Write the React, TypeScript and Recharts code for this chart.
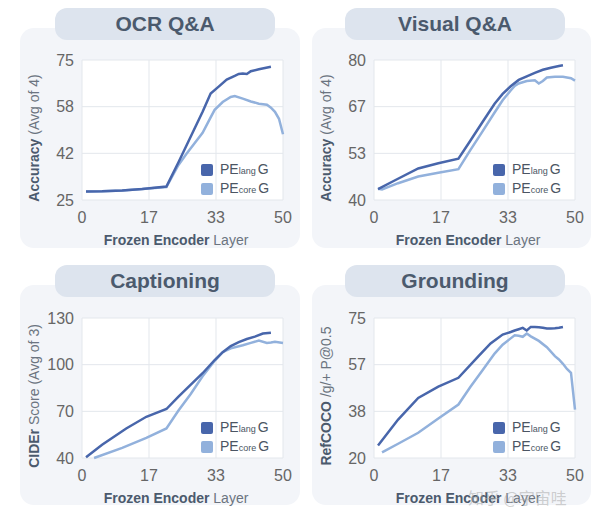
import React from 'react';
import { LineChart, Line, XAxis, YAxis, CartesianGrid, Legend } from 'recharts';

// layer positions shared by all four panels
const X_TICKS = [0, 16.67, 33.33, 50];

const OCR_Y_TICKS = [25, 41.67, 58.33, 75];
const OCR_LANG_LAYERS = [1, 5, 10, 15, 21, 24, 27, 30, 32, 34, 36, 38, 39, 40, 41, 42, 44, 47];
const OCR_LANG_ACC = [28.0, 28.1, 28.4, 28.9, 29.8, 38.5, 47.5, 56.5, 63.0, 65.5, 68.0, 69.3, 70.0, 70.2, 70.0, 71.0, 71.7, 72.6];
const OCR_CORE_LAYERS = [1, 5, 10, 15, 21, 24, 26, 28, 30, 32, 33, 35, 37, 38, 40, 42, 44, 46, 47, 48, 49, 50];
const OCR_CORE_ACC = [28.0, 28.1, 28.4, 28.9, 29.6, 37.5, 41.5, 45.3, 49.0, 54.5, 57.2, 60.0, 61.8, 62.1, 61.2, 60.2, 59.4, 59.0, 58.0, 56.5, 54.0, 48.5];

const VQA_Y_TICKS = [40, 53.33, 66.67, 80];
const VQA_LANG_LAYERS = [1, 5, 11, 16, 21, 24, 27, 30, 32, 34, 36, 38, 40, 42, 44, 46, 47];
const VQA_LANG_ACC = [43.1, 45.5, 49.0, 50.5, 51.8, 57.0, 62.3, 67.5, 70.3, 72.5, 74.3, 75.3, 76.3, 77.2, 77.8, 78.3, 78.5];
const VQA_CORE_LAYERS = [1, 2, 6, 11, 16, 21, 24, 27, 30, 32, 34, 35, 36, 38, 40, 41, 42, 43, 45, 47, 48, 49, 50];
const VQA_CORE_ACC = [43.2, 43.0, 44.8, 46.7, 47.8, 48.8, 54.3, 59.6, 65.0, 68.5, 71.3, 72.6, 73.3, 74.0, 74.2, 73.3, 74.0, 75.0, 75.2, 75.2, 75.0, 74.8, 74.1];

const CAP_Y_TICKS = [40, 70, 100, 130];
const CAP_LANG_LAYERS = [1, 5, 11, 16, 21, 24, 27, 30, 33, 35, 37, 39, 41, 43, 45, 47];
const CAP_LANG_SCORE = [40.5, 48.5, 59.0, 66.5, 71.5, 79.5, 87.0, 94.5, 103.0, 108.0, 112.0, 114.5, 116.5, 118.0, 120.0, 120.5];
const CAP_CORE_LAYERS = [3, 10, 16, 21, 24, 27, 30, 33, 35, 37, 40, 42, 44, 46, 47, 48, 50];
const CAP_CORE_SCORE = [40.0, 46.5, 53.0, 59.0, 70.5, 81.0, 92.5, 102.5, 108.0, 110.5, 112.5, 114.0, 115.5, 114.0, 114.2, 114.7, 114.0];

const GRD_Y_TICKS = [20, 38.33, 56.67, 75];
const GRD_LANG_LAYERS = [1, 6, 11, 16, 21, 26, 29, 32, 34, 35, 36, 37, 38, 39, 40, 41, 42, 43, 44, 45, 46, 47];
const GRD_LANG_ACC = [24.9, 35.1, 43.6, 48.0, 51.5, 60.0, 65.0, 68.5, 69.5, 70.1, 70.6, 71.1, 70.1, 71.5, 71.5, 71.4, 71.2, 70.9, 70.9, 71.0, 71.2, 71.5];
const GRD_CORE_LAYERS = [2, 6, 11, 16, 21, 24, 27, 30, 32, 34, 35, 36, 37, 38, 39, 41, 43, 45, 46, 47, 48, 49, 50];
const GRD_CORE_ACC = [22.2, 25.6, 29.9, 35.5, 41.0, 48.0, 54.5, 61.0, 64.5, 67.0, 68.2, 68.0, 67.6, 68.9, 67.8, 66.0, 63.5, 60.0, 58.7, 57.0, 55.0, 53.5, 39.0];

const SERIES_NAMES = ['PE lang G', 'PE core G'];
const SERIES_SUBS = ['lang', 'core'];

const LANG_COLOR = '#4866ab';
const CORE_COLOR = '#92b1dc';
const FONT = '"Liberation Sans", Arial, sans-serif';

const toPoints = (layers: number[], values: number[]) =>
  layers.map((layer, i) => ({ layer, value: values[i] }));

interface PanelProps {
  title: string;
  yBold: string;
  yRest: string;
  yTicks: number[];
  lang: { layer: number; value: number }[];
  core: { layer: number; value: number }[];
  left: number;
  top: number;
  cardTop: number;
  pillTop: number;
}

const LegendBox = () => (
  <div style={{ fontFamily: FONT, color: '#4b5563' }}>
    {SERIES_SUBS.map((sub, i) => (
      <div key={sub} style={{ display: 'flex', alignItems: 'center', height: 19 }}>
        <span
          style={{
            width: 12,
            height: 12,
            borderRadius: 2,
            marginRight: 7,
            background: i === 0 ? LANG_COLOR : CORE_COLOR,
          }}
        />
        <span style={{ fontSize: 14, lineHeight: '14px' }}>
          PE<span style={{ fontSize: 9 }}>{sub}</span>
          <span style={{ marginLeft: 2 }}>G</span>
        </span>
      </div>
    ))}
  </div>
);

const Panel: React.FC<PanelProps> = ({ title, yBold, yRest, yTicks, lang, core, left, top, cardTop, pillTop }) => {
  const cardLeft = left < 100 ? 20 : 312;
  const cardWidth = left < 100 ? 280 : 279;
  const pillLeft = left < 100 ? 55 : 345;
  return (
    <>
      <div
        style={{
          position: 'absolute',
          left: cardLeft,
          top: cardTop,
          width: cardWidth,
          height: 220,
          borderRadius: 14,
          background: '#f3f5f9',
        }}
      />
      <div
        style={{
          position: 'absolute',
          left: pillLeft,
          top: pillTop,
          width: 220,
          height: 32,
          borderRadius: 12,
          background: '#dde4ee',
          color: '#4b5a6d',
          fontFamily: FONT,
          fontWeight: 'bold',
          fontSize: 21,
          lineHeight: '32px',
          textAlign: 'center',
        }}
      >
        {title}
      </div>
      <div style={{ position: 'absolute', left, top }}>
        <LineChart width={300} height={260} margin={{ top: 60, right: 17, bottom: 30, left: 42 }}>
          <CartesianGrid stroke="#e3e7ec" fill="#ffffff" />
          <XAxis
            type="number"
            dataKey="layer"
            domain={[0, 50]}
            ticks={X_TICKS}
            tickFormatter={(v) => String(Math.round(v))}
            axisLine={false}
            tickLine={false}
            tickMargin={6}
            interval={0}
            tick={{ fontSize: 16, fill: '#666666', fontFamily: FONT }}
            label={{
              content: () => (
                <text x={176} y={245} textAnchor="middle" fontSize={14} fontFamily={FONT}>
                  <tspan fontWeight="bold" fill="#4b5a6d">Frozen Encoder</tspan>
                  <tspan fill="#6b7480"> Layer</tspan>
                </text>
              ),
            }}
          />
          <YAxis
            type="number"
            width={40}
            domain={[yTicks[0], yTicks[yTicks.length - 1]]}
            ticks={yTicks}
            tickFormatter={(v) => String(Math.round(v))}
            axisLine={false}
            tickLine={false}
            interval={0}
            tick={{ fontSize: 16, fill: '#666666', fontFamily: FONT }}
            label={{
              content: () => (
                <text
                  x={34}
                  y={138}
                  transform="rotate(-90, 34, 138)"
                  textAnchor="middle"
                  dominantBaseline="central"
                  fontSize={14}
                  fontFamily={FONT}
                >
                  <tspan fontWeight="bold" fill="#4b5a6d">{yBold}</tspan>
                  <tspan fill="#6b7480">{yRest}</tspan>
                </text>
              ),
            }}
          />
          <Legend
            layout="vertical"
            align="center"
            verticalAlign="middle"
            wrapperStyle={{ left: 201, top: 160, width: 'auto' }}
            content={() => <LegendBox />}
          />
          <Line
            data={core}
            dataKey="value"
            name={SERIES_NAMES[1]}
            stroke={CORE_COLOR}
            strokeWidth={2.5}
            dot={false}
            type="linear"
            isAnimationActive={false}
          />
          <Line
            data={lang}
            dataKey="value"
            name={SERIES_NAMES[0]}
            stroke={LANG_COLOR}
            strokeWidth={2.5}
            dot={false}
            type="linear"
            isAnimationActive={false}
          />
        </LineChart>
      </div>
    </>
  );
};

export default function App() {
  return (
    <div
      style={{
        position: 'absolute',
        left: 0,
        top: 0,
        width: 593,
        height: 520,
        background: '#ffffff',
        overflow: 'hidden',
      }}
    >
      <Panel
        title="OCR Q&A"
        yBold="Accuracy"
        yRest=" (Avg of 4)"
        yTicks={OCR_Y_TICKS}
        lang={toPoints(OCR_LANG_LAYERS, OCR_LANG_ACC)}
        core={toPoints(OCR_CORE_LAYERS, OCR_CORE_ACC)}
        left={0}
        top={0}
        cardTop={28}
        pillTop={8}
      />
      <Panel
        title="Visual Q&A"
        yBold="Accuracy"
        yRest=" (Avg of 4)"
        yTicks={VQA_Y_TICKS}
        lang={toPoints(VQA_LANG_LAYERS, VQA_LANG_ACC)}
        core={toPoints(VQA_CORE_LAYERS, VQA_CORE_ACC)}
        left={292}
        top={0}
        cardTop={28}
        pillTop={8}
      />
      <Panel
        title="Captioning"
        yBold="CIDEr"
        yRest=" Score (Avg of 3)"
        yTicks={CAP_Y_TICKS}
        lang={toPoints(CAP_LANG_LAYERS, CAP_LANG_SCORE)}
        core={toPoints(CAP_CORE_LAYERS, CAP_CORE_SCORE)}
        left={0}
        top={258}
        cardTop={285}
        pillTop={265}
      />
      <Panel
        title="Grounding"
        yBold="RefCOCO"
        yRest=" /g/+ P@0.5"
        yTicks={GRD_Y_TICKS}
        lang={toPoints(GRD_LANG_LAYERS, GRD_LANG_ACC)}
        core={toPoints(GRD_CORE_LAYERS, GRD_CORE_ACC)}
        left={292}
        top={258}
        cardTop={285}
        pillTop={265}
      />
      <div
        style={{
          position: 'absolute',
          left: 468,
          top: 485,
          fontSize: 16,
          fontFamily: '"Noto Sans CJK SC", sans-serif',
          color: 'rgba(170,170,170,0.55)',
          whiteSpace: 'nowrap',
        }}
      >
        知乎 @宇宙哇
      </div>
    </div>
  );
}
